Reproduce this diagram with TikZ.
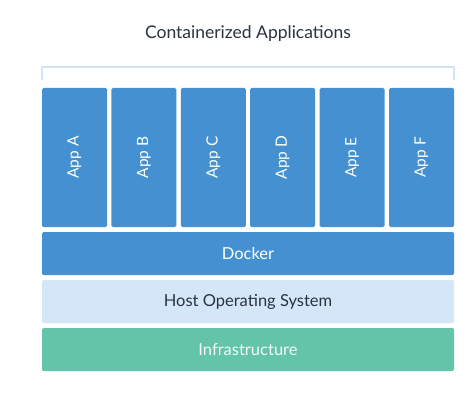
\documentclass[tikz,border=0pt]{standalone}
\usepackage{fontspec}
\setmainfont{Lato}
\definecolor{appblue}{HTML}{4490D0}
\definecolor{hostblue}{HTML}{D4E7F8}
\definecolor{infragreen}{HTML}{63C4A9}
\definecolor{bracketblue}{HTML}{D2E4F5}
\definecolor{darktext}{HTML}{2A3340}
\tikzset{every node/.style={inner sep=0pt,font=\fontsize{16.5}{19}\selectfont}}
\tikzset{app/.style={rectangle,fill=appblue,rounded corners=1.5pt,minimum width=139pt,minimum height=65pt,text=white,rotate=90,font=\fontsize{15.5}{18}\selectfont}}
\tikzset{layer/.style={rectangle,rounded corners=1.5pt,minimum width=412pt,minimum height=43pt}}

\begin{document}
\begin{tikzpicture}[x=1pt,y=1pt]
      \useasboundingbox (0,0) rectangle (474,-412);
      \node[text=darktext,font=\fontsize{17.5}{20}\selectfont] (title) at (248,-34) {Containerized Applications};

      \coordinate (bl) at (42,-80);
      \coordinate (br) at (454,-80);
      \draw[bracketblue, line width=2.6pt] (bl) |- (248,-67) -| (br);

      \foreach \n/\x in {A/74.5,B/143.9,C/213.3,D/282.7,E/352.1,F/421.5}
        \node[app] (app\n) at (\x,-157.5) {App \n};

      \node[layer,fill=appblue,text=white] (docker) at (248,-253.5) {Docker};
      \node[layer,fill=hostblue,text=darktext] (host) at (248,-301.5) {Host Operating System};
      \node[layer,fill=infragreen,text=white!92!infragreen] (infra) at (248,-349.5) {Infrastructure};
    \end{tikzpicture}
\end{document}
